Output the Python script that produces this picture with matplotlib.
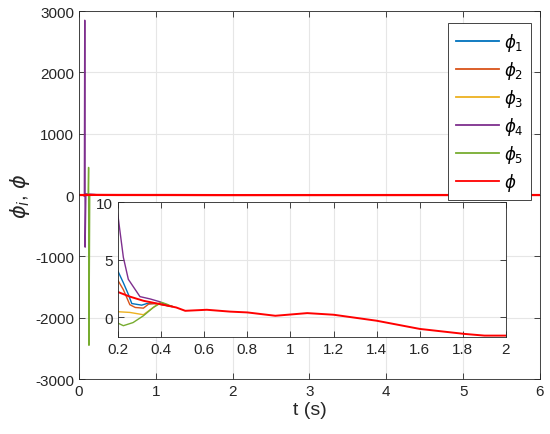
import matplotlib
matplotlib.use("Agg")
import matplotlib.pyplot as plt
from matplotlib.ticker import FuncFormatter

plt.rcParams['font.family'] = ['Liberation Sans', 'DejaVu Sans']
plt.rcParams['mathtext.fontset'] = 'dejavusans'
plt.rcParams['axes.unicode_minus'] = False

# ---- data ----
t1 = [0, 0.05, 0.07, 0.09, 0.2, 0.225, 0.248, 0.264, 0.31, 0.334, 0.38, 0.42, 0.45]
phi1 = [0, 0, -5, 5, 4.0, 3.0, 2.0, 1.2, 1.06, 1.2, 1.2, 1.05, 0.95]

t2 = [0, 0.05, 0.07, 0.09, 0.2, 0.225, 0.255, 0.28, 0.318, 0.342, 0.37, 0.42, 0.45]
phi2 = [0, 0, -4, 4, 3.2, 2.4, 1.1, 0.86, 0.8, 1.15, 1.2, 1.05, 0.95]

t3 = [0, 0.05, 0.07, 0.09, 0.2, 0.255, 0.318, 0.395, 0.42, 0.45]
phi3 = [0, 0, -3, 3, 0.49, 0.43, 0.23, 1.3, 1.1, 0.95]

t4 = [0, 0.05, 0.07, 0.075, 0.08, 0.09, 0.2, 0.225, 0.248, 0.302, 0.349, 0.395, 0.42, 0.45]
phi4 = [0, 0, -20, 2850, -850, 20, 8.8, 5.2, 3.3, 1.8, 1.6, 1.35, 1.1, 0.95]

t5 = [0, 0.1, 0.12, 0.125, 0.13, 0.14, 0.2, 0.225, 0.27, 0.318, 0.364, 0.403, 0.426, 0.45]
phi5 = [0, 0, 5, 450, -2450, 5, -0.5, -0.72, -0.45, 0.14, 0.86, 1.3, 1.15, 0.95]

t = [0, 0.1, 0.2, 0.255, 0.318, 0.395, 0.47, 0.512, 0.612, 0.72, 0.8, 0.93, 1.078,
     1.2, 1.4, 1.6, 1.806, 1.9, 2.0, 3.0, 4.0, 5.0, 6.0]
phi = [0, 0, 2.2, 1.8, 1.44, 1.15, 0.86, 0.57, 0.66, 0.5, 0.43, 0.14, 0.37,
       0.23, -0.29, -1.0, -1.43, -1.58, -1.58, -1.2, -0.8, -0.5, -0.3]

labels = [r'$\phi_1$', r'$\phi_2$', r'$\phi_3$', r'$\phi_4$', r'$\phi_5$', r'$\phi$']
colors = ['#0072BD', '#D95319', '#EDB120', '#7E2F8E', '#77AC30', '#FF0000']

series = [(t1, phi1), (t2, phi2), (t3, phi3), (t4, phi4), (t5, phi5), (t, phi)]

xticks_main = [0, 1, 2, 3, 4, 5, 6]
yticks_main = [-3000, -2000, -1000, 0, 1000, 2000, 3000]
xticks_in = [0.2, 0.4, 0.6, 0.8, 1.0, 1.2, 1.4, 1.6, 1.8, 2.0]
yticks_in = [0, 5, 10]

axcol = '#262626'
gridcol = '#E6E6E6'

fig = plt.figure(figsize=(5.5, 4.35), dpi=100)
ax = fig.add_axes([0.1436, 0.1264, 0.8382, 0.846])

def style(a, fs):
    a.tick_params(direction='in', top=True, right=True, length=4, width=0.6,
                  colors=axcol, labelsize=fs)
    for s in a.spines.values():
        s.set_color(axcol)
        s.set_linewidth(0.6)
    a.grid(True, color=gridcol, linewidth=0.8)
    a.set_axisbelow(True)

for (x, y), c, lab in zip(series, colors, labels):
    lw = 1.6 if c == '#FF0000' else 1.0
    ax.plot(x, y, color=c, lw=lw, label=lab)

ax.set_xlim(0, 6)
ax.set_ylim(-3000, 3000)
ax.set_xticks(xticks_main)
ax.set_yticks(yticks_main)
style(ax, 11)
ax.set_xlabel('t (s)', fontsize=14, color=axcol, labelpad=2)
ax.set_ylabel(r'$\phi_i$, $\phi$', fontsize=15, color=axcol, labelpad=2)

leg = ax.legend(loc='upper right', bbox_to_anchor=(531 / 550, 1 - 24 / 435),
                bbox_transform=fig.transFigure, borderaxespad=0, fontsize=12,
                frameon=True, fancybox=False, handlelength=2.6,
                labelspacing=0.36, borderpad=0.45, handletextpad=0.3)
leg.get_frame().set_edgecolor(axcol)
leg.get_frame().set_linewidth(0.6)
leg.get_frame().set_alpha(1)
for ln in leg.get_lines():
    ln.set_linewidth(1.3)

ins = fig.add_axes([0.2145, 0.223, 0.7055, 0.3103])
for (x, y), c in zip(series, colors):
    lw = 1.4 if c == '#FF0000' else 1.0
    ins.plot(x, y, color=c, lw=lw)
ins.set_xlim(0.2, 2)
ins.set_ylim(-1.7, 10)
ins.set_xticks(xticks_in)
ins.set_yticks(yticks_in)
ins.xaxis.set_major_formatter(FuncFormatter(lambda v, p: f'{v:g}'))
style(ins, 11)
ins.set_facecolor('white')

fig.savefig('out.png', dpi=100)
